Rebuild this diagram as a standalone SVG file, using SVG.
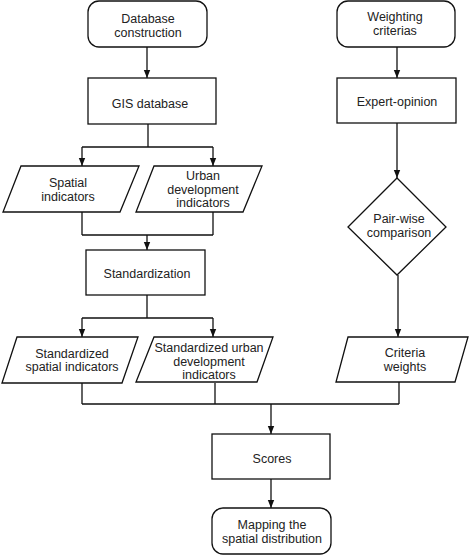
<svg xmlns="http://www.w3.org/2000/svg" width="474" height="556" viewBox="0 0 474 556">
<defs>
<marker id="ah" viewBox="0 0 10 10" refX="10" refY="5" markerUnits="userSpaceOnUse" markerWidth="8" markerHeight="8" orient="auto">
<path d="M0,1 L10,5 L0,9 z" fill="#111"/>
</marker>
</defs>
<style>
.s{fill:#fff;stroke:#111;stroke-width:1.3}
.t{font-family:"Liberation Sans",Arial,sans-serif;font-size:12.5px;fill:#222;text-anchor:middle}
.c{fill:none;stroke:#111;stroke-width:1.3}
</style>
<rect width="474" height="556" fill="#fff"/>
<g id="connectors">
<path class="c" d="M147,47 V78" marker-end="url(#ah)"/>
<path class="c" d="M148,124 V147 M82,147 H213"/>
<path class="c" d="M82,147 V166" marker-end="url(#ah)"/>
<path class="c" d="M213,147 V166" marker-end="url(#ah)"/>
<path class="c" d="M82,212 V235 M213,212 V235 M82,235 H213"/>
<path class="c" d="M147,235 V250" marker-end="url(#ah)"/>
<path class="c" d="M147,295 V318 M82,318 H213"/>
<path class="c" d="M82,318 V337" marker-end="url(#ah)"/>
<path class="c" d="M213,318 V337" marker-end="url(#ah)"/>
<path class="c" d="M82,383 V404 M215,383 V404 M399,382 V404 M82,404 H399"/>
<path class="c" d="M271,404 V434" marker-end="url(#ah)"/>
<path class="c" d="M271,479 V508" marker-end="url(#ah)"/>
<path class="c" d="M397,47 V78" marker-end="url(#ah)"/>
<path class="c" d="M397,123 V178" marker-end="url(#ah)"/>
<path class="c" d="M398,275 V337" marker-end="url(#ah)"/>
</g>
<g id="db-construction">
<rect class="s" x="88" y="1" width="119" height="46" rx="11"/>
<text class="t" x="148" y="22.5">Database</text>
<text class="t" x="148" y="36.5">construction</text>
</g>
<g id="gis-database">
<rect class="s" x="88" y="78" width="128" height="46"/>
<text class="t" x="150" y="107.5">GIS database</text>
</g>
<g id="spatial-indicators">
<polygon class="s" points="21,166 139,166 120,212 3,212"/>
<text class="t" x="68" y="187">Spatial</text>
<text class="t" x="68" y="200.5">indicators</text>
</g>
<g id="urban-indicators">
<polygon class="s" points="154,166 262,166 243,212 136,212"/>
<text class="t" x="203" y="179.5">Urban</text>
<text class="t" x="203" y="193.5">development</text>
<text class="t" x="203" y="207">indicators</text>
</g>
<g id="standardization">
<rect class="s" x="86" y="250" width="119" height="45"/>
<text class="t" x="147" y="278">Standardization</text>
</g>
<g id="std-spatial">
<polygon class="s" points="17,337 138,337 122,383 2,383"/>
<text class="t" x="72" y="358">Standardized</text>
<text class="t" x="72" y="371">spatial indicators</text>
</g>
<g id="std-urban">
<polygon class="s" points="154,337 273,337 257,382 136,382"/>
<text class="t" x="209" y="352">Standardized urban</text>
<text class="t" x="209" y="366">development</text>
<text class="t" x="209" y="379">indicators</text>
</g>
<g id="weighting-criterias">
<rect class="s" x="337" y="1" width="118" height="46" rx="11"/>
<text class="t" x="395" y="21">Weighting</text>
<text class="t" x="395" y="35">criterias</text>
</g>
<g id="expert-opinion">
<rect class="s" x="337" y="78" width="119" height="45"/>
<text class="t" x="397" y="106">Expert-opinion</text>
</g>
<g id="pair-wise">
<polygon class="s" points="397,178 446,227 397,275 348,227"/>
<text class="t" x="399" y="223">Pair-wise</text>
<text class="t" x="399" y="237">comparison</text>
</g>
<g id="criteria-weights">
<polygon class="s" points="348,337 468,337 455,382 336,382"/>
<text class="t" x="405" y="357">Criteria</text>
<text class="t" x="405" y="371">weights</text>
</g>
<g id="scores">
<rect class="s" x="212" y="434" width="118" height="45"/>
<text class="t" x="272" y="463">Scores</text>
</g>
<g id="mapping">
<rect class="s" x="212" y="508" width="119" height="46" rx="11"/>
<text class="t" x="272" y="529">Mapping the</text>
<text class="t" x="272" y="543">spatial distribution</text>
</g>
</svg>
